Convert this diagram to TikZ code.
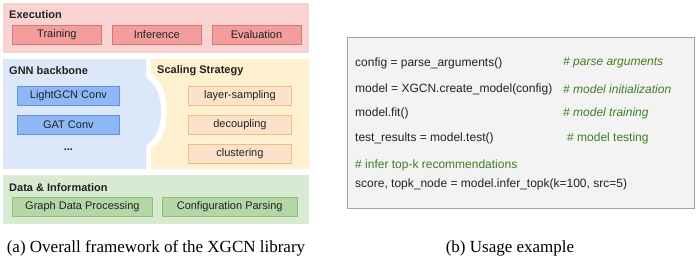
\documentclass[tikz,border=0pt]{standalone}
\usepackage{fontspec}
\setmainfont{Liberation Serif}
\newfontfamily\arialfont{Liberation Sans}
\usepackage{xcolor}
\usetikzlibrary{positioning}
\definecolor{expanel}{HTML}{F8D3D2}
\definecolor{exbox}{HTML}{F39D9C}
\definecolor{exline}{HTML}{D87575}
\definecolor{gnnpanel}{HTML}{DCE7FA}
\definecolor{gnnbox}{HTML}{8DB8F5}
\definecolor{gnnline}{HTML}{6392D8}
\definecolor{scpanel}{HTML}{FFF1CF}
\definecolor{scbox}{HTML}{FCE2C8}
\definecolor{scline}{HTML}{EFBE88}
\definecolor{dipanel}{HTML}{D8EAD2}
\definecolor{dibox}{HTML}{B4D7A5}
\definecolor{diline}{HTML}{8EBE79}
\definecolor{codefill}{HTML}{F3F3F3}
\definecolor{codeline}{HTML}{A3A3A3}
\definecolor{cmtgreen}{HTML}{3F7E20}
\definecolor{txt}{HTML}{222222}

\begin{document}
\begin{tikzpicture}[x=1pt, y=-1pt, node distance=9pt,
        font=\arialfont\fontsize{11}{13}\selectfont, text=txt,
        box/.style={draw, line width=0.8pt, minimum height=19pt, inner sep=0pt, align=center},
        exitem/.style={box, fill=exbox, draw=exline, minimum width=89pt},
        gnnitem/.style={box, fill=gnnbox, draw=gnnline, minimum width=102pt},
        scitem/.style={box, fill=scbox, draw=scline, minimum width=103pt},
        diitem/.style={box, fill=dibox, draw=diline},
        title/.style={anchor=west, inner sep=0pt, font=\arialfont\bfseries\fontsize{11}{13}\selectfont},
        code/.style={anchor=west, inner sep=0pt, font=\arialfont\fontsize{12}{14}\selectfont},
        cmt/.style={code, text=cmtgreen},
        caption/.style={inner sep=0pt, text=black, font=\rmfamily\fontsize{17}{20}\selectfont}]
      \useasboundingbox (0,0) rectangle (700,266);
      % panels
      \fill[expanel] (3,3) rectangle (309,53);
      \fill[scpanel] (151,59) -- (309,59) -- (309,169) -- (151,169) -- (151,149)
            .. controls (172,139) and (172,84) .. (151,74) -- cycle;
      \fill[gnnpanel] (3,59) -- (146,59) -- (146,78)
            .. controls (166,88) and (166,135) .. (146,145) -- (146,169) -- (3,169) -- cycle;
      \fill[dipanel] (3,175) rectangle (309,224);

      % execution
      \node[title] (exec) at (9,15) {Execution};
      \node[exitem, anchor=north west] (train) at (12,25) {Training};
      \node[exitem, right=10pt of train] (infer) {Inference};
      \node[exitem, right=10pt of infer] (eval) {Evaluation};

      % gnn backbone
      \node[title] (gnn) at (9,71) {GNN backbone};
      \node[gnnitem, anchor=north west] (lgcn) at (17,86) {LightGCN Conv};
      \node[gnnitem, below=of lgcn] (gat) {GAT Conv};
      \node[inner sep=0pt, below=14pt of gat] (more) {\textbf{...}};

      % scaling strategy
      \node[title] (scale) at (157,71) {Scaling Strategy};
      \node[scitem, anchor=north west] (layer) at (188,86) {layer-sampling};
      \node[scitem, below=of layer] (decouple) {decoupling};
      \node[scitem, below=of decouple] (cluster) {clustering};

      % data & information
      \node[title] (data) at (9,188) {Data \& Information};
      \node[diitem, minimum width=140pt, anchor=north west] (graph) at (12,197) {Graph Data Processing};
      \node[diitem, minimum width=135pt, right=of graph] (conf) {Configuration Parsing};

      \node[caption] (capa) at (156,248) {(a) Overall framework of the XGCN library};

      % usage example
      \draw[codeline, fill=codefill, line width=0.8pt] (347,37) rectangle (694,208);
      \node[code] (l1) at (355,63) {config = parse\_arguments()};
      \node[code] (l2) at (355,89) {model = XGCN.create\_model(config)};
      \node[code] (l3) at (355,113) {model.fit()};
      \node[code] (l4) at (355,138) {test\_results = model.test()};
      \node[cmt] (l5) at (355,165) {\# infer top-k recommendations};
      \node[code] (l6) at (355,184) {score, topk\_node = model.infer\_topk(k=100, src=5)};
      \node[cmt, font=\arialfont\itshape\fontsize{12}{14}\selectfont] (c1) at (563,63) {\# parse arguments};
      \node[cmt, font=\arialfont\itshape\fontsize{12}{14}\selectfont] (c2) at (563,89) {\# model initialization};
      \node[cmt, font=\arialfont\itshape\fontsize{12}{14}\selectfont] (c3) at (563,113) {\# model training};
      \node[cmt] (c4) at (567,138) {\# model testing};

      \node[caption] (capb) at (510,248) {(b) Usage example};
    \end{tikzpicture}
\end{document}
